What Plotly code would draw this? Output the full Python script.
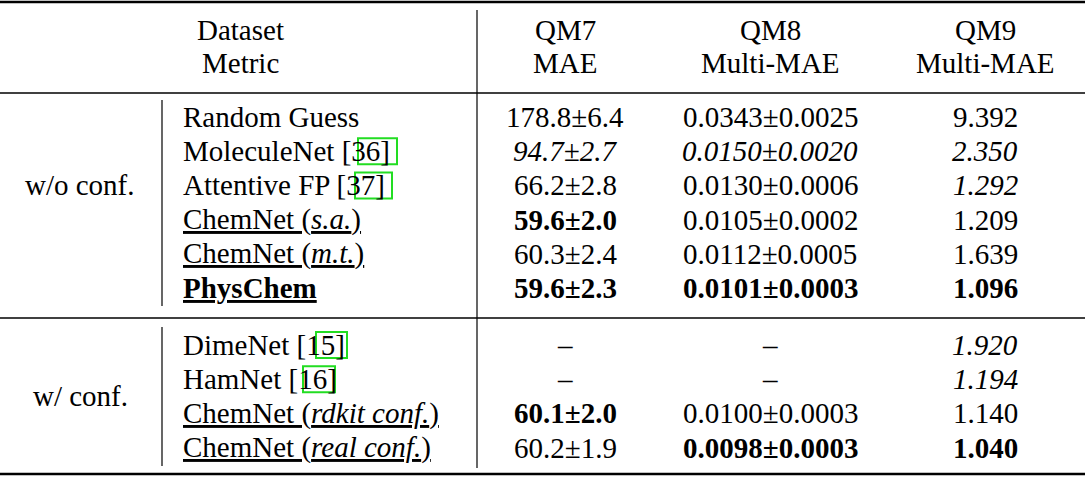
import plotly.graph_objects as go

header_top = ["Dataset", "QM7", "QM8", "QM9"]
header_bot = ["Metric", "MAE", "Multi-MAE", "Multi-MAE"]

groups = ["w/o conf.", "w/ conf."]

methods_a = ["Random Guess", "MoleculeNet [36]", "Attentive FP [37]",
             "<u>ChemNet (<i>s.a.</i>)</u>", "<u>ChemNet (<i>m.t.</i>)</u>",
             "<u><b>PhysChem</b></u>"]
qm7_a = ["178.8±6.4", "<i>94.7±2.7</i>", "66.2±2.8", "<b>59.6±2.0</b>",
         "60.3±2.4", "<b>59.6±2.3</b>"]
qm8_a = ["0.0343±0.0025", "<i>0.0150±0.0020</i>", "0.0130±0.0006",
         "0.0105±0.0002", "0.0112±0.0005", "<b>0.0101±0.0003</b>"]
qm9_a = ["9.392", "<i>2.350</i>", "<i>1.292</i>", "1.209", "1.639", "<b>1.096</b>"]

methods_b = ["DimeNet [15]", "HamNet [16]",
             "<u>ChemNet (<i>rdkit conf.</i>)</u>", "<u>ChemNet (<i>real conf.</i>)</u>"]
qm7_b = ["–", "–", "<b>60.1±2.0</b>", "60.2±1.9"]
qm8_b = ["–", "–", "0.0100±0.0003", "<b>0.0098±0.0003</b>"]
qm9_b = ["<i>1.920</i>", "<i>1.194</i>", "1.140", "<b>1.040</b>"]

# citation boxes (x0, x1) per row, green frames around reference numbers
cite_a = {1: (358, 397), 2: (355, 392)}
cite_b = {0: (316, 347), 1: (303, 335)}

FONT = dict(family="Liberation Serif", size=29, color="black")
col_x = [240, 565, 770, 985]
name_x = 181
row_h = 34.2
y_a0 = 117
y_b0 = 345

fig = go.Figure()
fig.add_trace(go.Scatter(x=[0], y=[0], mode="markers", marker=dict(opacity=0),
                         hoverinfo="skip", showlegend=False))

ann = []


def txt(x, y, t, anchor="center"):
    ann.append(dict(x=x, y=y, text=t, showarrow=False, xanchor=anchor,
                    yanchor="middle", font=FONT))


for i in range(4):
    txt(col_x[i], 30, header_top[i])
    txt(col_x[i], 63, header_bot[i])

shapes = []


def block(y0, methods, c7, c8, c9, cites):
    for r in range(len(methods)):
        y = y0 + r * row_h
        txt(name_x, y, methods[r], "left")
        txt(col_x[1], y, c7[r])
        txt(col_x[2], y, c8[r])
        txt(col_x[3], y, c9[r])
        if r in cites:
            x0, x1 = cites[r]
            shapes.append(dict(type="rect", x0=x0, x1=x1, y0=y - 13, y1=y + 13,
                               line=dict(color="#22dd22", width=2)))


block(y_a0, methods_a, qm7_a, qm8_a, qm9_a, cite_a)
block(y_b0, methods_b, qm7_b, qm8_b, qm9_b, cite_b)
txt(80, y_a0 + 2 * row_h, groups[0])
txt(80, y_b0 + 1.5 * row_h, groups[1])

# rules
for y, w in [(2, 2.5), (93, 1.5), (318, 1.5), (474, 2.5)]:
    shapes.append(dict(type="line", x0=0, x1=1085, y0=y, y1=y,
                       line=dict(color="black", width=w)))
for x, y0, y1 in [(477, 10, 468), (162, 100, 306), (162, 327, 466)]:
    shapes.append(dict(type="line", x0=x, x1=x, y0=y0, y1=y1,
                       line=dict(color="black", width=1.2)))

fig.update_layout(
    width=1085, height=477, margin=dict(l=0, r=0, t=0, b=0),
    plot_bgcolor="white", paper_bgcolor="white",
    xaxis=dict(range=[0, 1085], visible=False, fixedrange=True),
    yaxis=dict(range=[477, 0], visible=False, fixedrange=True),
    annotations=ann, shapes=shapes,
)
fig.write_html("out.html", config={"displayModeBar": False},
               post_script="document.body.style.margin='0';")
